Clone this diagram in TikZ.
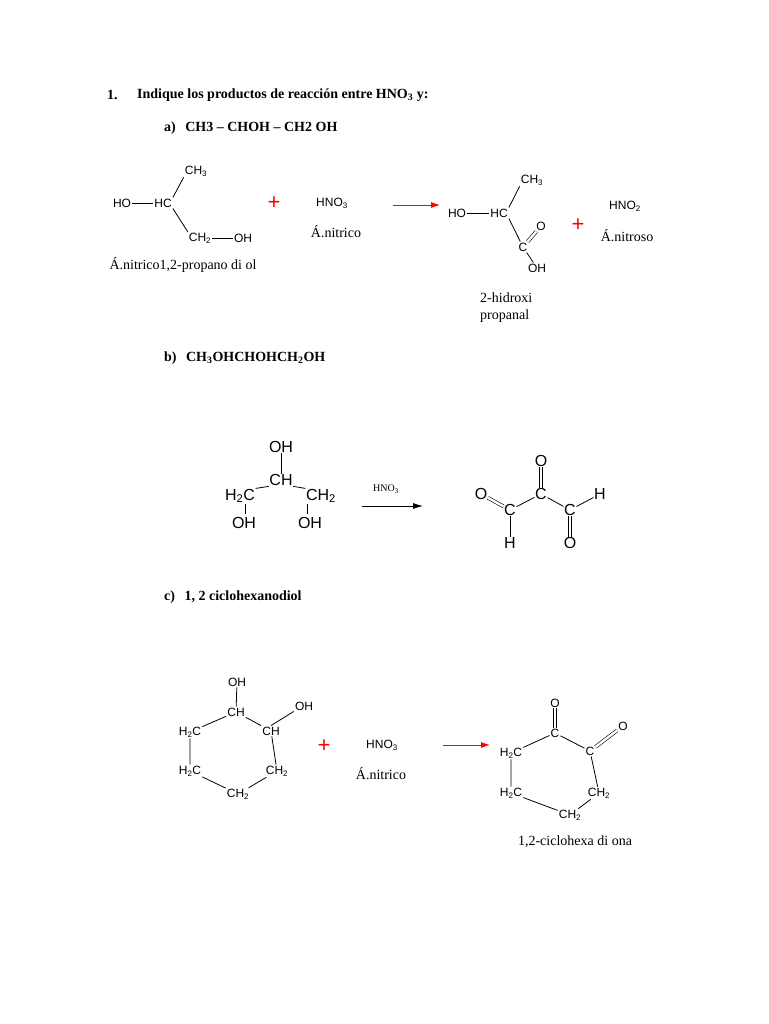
\documentclass[tikz,border=0pt]{standalone}
\usepackage{fontspec}
\setmainfont{Liberation Serif}
\setsansfont{Liberation Sans}
\usetikzlibrary{arrows.meta}
\begin{document}
\begin{tikzpicture}[x=1pt,y=-1pt,
  ch/.style={font=\sffamily\fontsize{12}{13}\selectfont,inner sep=1pt},
  chb/.style={font=\sffamily\fontsize{16}{17}\selectfont,inner sep=0.5pt},
  tx/.style={font=\fontsize{14}{16}\selectfont,inner sep=0pt},
  hd/.style={font=\bfseries\fontsize{14}{16}\selectfont,inner sep=0pt,anchor=west},
  plus/.style={text=red,font=\sffamily\fontsize{22}{22}\selectfont,inner sep=0pt},
  bond/.style={line width=0.8pt},
  dbl/.style={double,double distance=2.4pt,line width=0.6pt},
  rarr/.style={red,line width=0.8pt,-{Latex[length=9pt,width=6pt]}},
  barr/.style={black,line width=0.9pt,-{Latex[length=10pt,width=6pt]}}]
\useasboundingbox (0,0) rectangle (768,1024);
\fill[white] (0,0) rectangle (768,1024);
% headings
\node[hd] (n1) at (107,95) {1.};
\node[hd] (t1) at (137,95) {Indique los productos de reacción entre HNO\textsubscript{3} y:};
\node[hd] (ha) at (164,128) {a)\hspace{6pt} CH3 – CHOH – CH2 OH};
\node[hd] (hb) at (164,358) {b)\hspace{6pt} CH\textsubscript{3}OHCHOHCH\textsubscript{2}OH};
\node[hd] (hc) at (164,597) {c)\hspace{6pt} 1, 2 ciclohexanodiol};
% part a reactant
\node[ch] (aHO) at (122,203) {HO};
\node[ch] (aHC) at (163,203) {HC};
\node[ch] (aCH3) at (196,171) {CH\textsubscript{3}};
\node[ch] (aCH2) at (200,238) {CH\textsubscript{2}};
\node[ch] (aOH) at (243,238) {OH};
\draw[bond] (aHO) -- (aHC);
\draw[bond] (aHC.north east) -- (aCH3.south west);
\draw[bond] (aHC.south east) -- (aCH2.north west);
\draw[bond] (aCH2) -- (aOH);
\node[tx] (acap) at (183,265) {Á.nitrico1,2-propano di ol};
\node[plus] (ap1) at (274,203) {+};
\node[ch] (aHNO3) at (332,203) {HNO\textsubscript{3}};
\node[tx] (anit) at (336,232) {Á.nitrico};
\coordinate (aa1) at (393,205); \coordinate (aa2) at (440,205);
\draw[rarr] (aa1) -- (aa2);
% part a product
\node[ch] (pHO) at (457,213) {HO};
\node[ch] (pHC) at (499,213) {HC};
\node[ch] (pCH3) at (532,180) {CH\textsubscript{3}};
\node[ch] (pC) at (523,247) {C};
\node[ch] (pO) at (541,226) {O};
\node[ch] (pOH) at (537,268) {OH};
\draw[bond] (pHO) -- (pHC);
\draw[bond] (pHC.north east) -- (pCH3.south west);
\draw[bond] (pHC.south east) -- (pC);
\draw[dbl] (pC) -- (pO);
\draw[bond] (pC) -- (pOH);
\node[plus] (ap2) at (578,225) {+};
\node[ch] (aHNO2) at (625,206) {HNO\textsubscript{2}};
\node[tx] (anso) at (627,236) {Á.nitroso};
\node[tx,anchor=west] (pc1) at (480,298) {2-hidroxi};
\node[tx,anchor=west] (pc2) at (480,316) {propanal};
% part b reactant
\node[chb] (bOH) at (281,447) {OH};
\node[chb] (bCH) at (281,480) {CH};
\node[chb] (bL) at (240,496) {H\textsubscript{2}C};
\node[chb] (bR) at (321,496) {CH\textsubscript{2}};
\node[chb] (bOL) at (244,523) {OH};
\node[chb] (bOR) at (310,523) {OH};
\draw[bond] (bOH) -- (bCH);
\draw[bond] (bCH.south west) -- (bL.north east);
\draw[bond] (bCH.south east) -- (bR.north west);
\coordinate (bl1) at (245,504); \coordinate (bl2) at (245,514);
\coordinate (br1) at (307,504); \coordinate (br2) at (307,514);
\draw[bond] (bl1) -- (bl2); \draw[bond] (br1) -- (br2);
\node[font=\fontsize{10}{10}\selectfont,inner sep=0pt] (bh) at (386,489) {HNO\textsubscript{3}};
\coordinate (ba1) at (362,506); \coordinate (ba2) at (423,506);
\draw[barr] (ba1) -- (ba2);
% part b product
\node[chb] (qO) at (541,461) {O};
\node[chb] (qC) at (541,494) {C};
\node[chb] (qOL) at (481,494) {O};
\node[chb] (qCL) at (510,510) {C};
\node[chb] (qHL) at (510,543) {H};
\node[chb] (qCR) at (570,510) {C};
\node[chb] (qHR) at (600,494) {H};
\node[chb] (qOB) at (570,543) {O};
\draw[dbl] (qO) -- (qC);
\draw[dbl] (qOL) -- (qCL);
\draw[bond] (qCL) -- (qC);
\draw[bond] (qC) -- (qCR);
\draw[bond] (qCL) -- (qHL);
\draw[bond] (qCR) -- (qHR);
\draw[dbl] (qCR) -- (qOB);
% part c reactant
\node[ch] (cOH1) at (237,682) {OH};
\node[ch] (cC1) at (236,712) {CH};
\node[ch] (cOH2) at (304,706) {OH};
\node[ch] (cC2) at (271,731) {CH};
\node[ch] (cC3) at (277,771) {CH\textsubscript{2}};
\node[ch] (cC4) at (238,794) {CH\textsubscript{2}};
\node[ch] (cC5) at (190,771) {H\textsubscript{2}C};
\node[ch] (cC6) at (190,732) {H\textsubscript{2}C};
\draw[bond] (cOH1) -- (cC1);
\draw[bond] (cC2.north) -- (cOH2.south west);
\draw[bond] (cC1) -- (cC2) -- (cC3) -- (cC4) -- (cC5) -- (cC6) -- (cC1);
\node[plus] (cp) at (324,746) {+};
\node[ch] (cHNO3) at (382,745) {HNO\textsubscript{3}};
\node[tx] (cnit) at (381,774) {Á.nitrico};
\coordinate (ca1) at (443,745); \coordinate (ca2) at (490,745);
\draw[rarr] (ca1) -- (ca2);
% part c product
\node[ch] (dO1) at (555,703) {O};
\node[ch] (dC1) at (555,733) {C};
\node[ch] (dO2) at (623,726) {O};
\node[ch] (dC2) at (590,751) {C};
\node[ch] (dC3) at (599,793) {CH\textsubscript{2}};
\node[ch] (dC4) at (570,815) {CH\textsubscript{2}};
\node[ch] (dC5) at (511,793) {H\textsubscript{2}C};
\node[ch] (dC6) at (511,753) {H\textsubscript{2}C};
\draw[dbl] (dO1) -- (dC1);
\draw[dbl] (dC2) -- (dO2);
\draw[bond] (dC1) -- (dC2) -- (dC3) -- (dC4) -- (dC5) -- (dC6) -- (dC1);
\node[tx] (dcap) at (575,842) {1,2-ciclohexa di ona};
\end{tikzpicture}
\end{document}
